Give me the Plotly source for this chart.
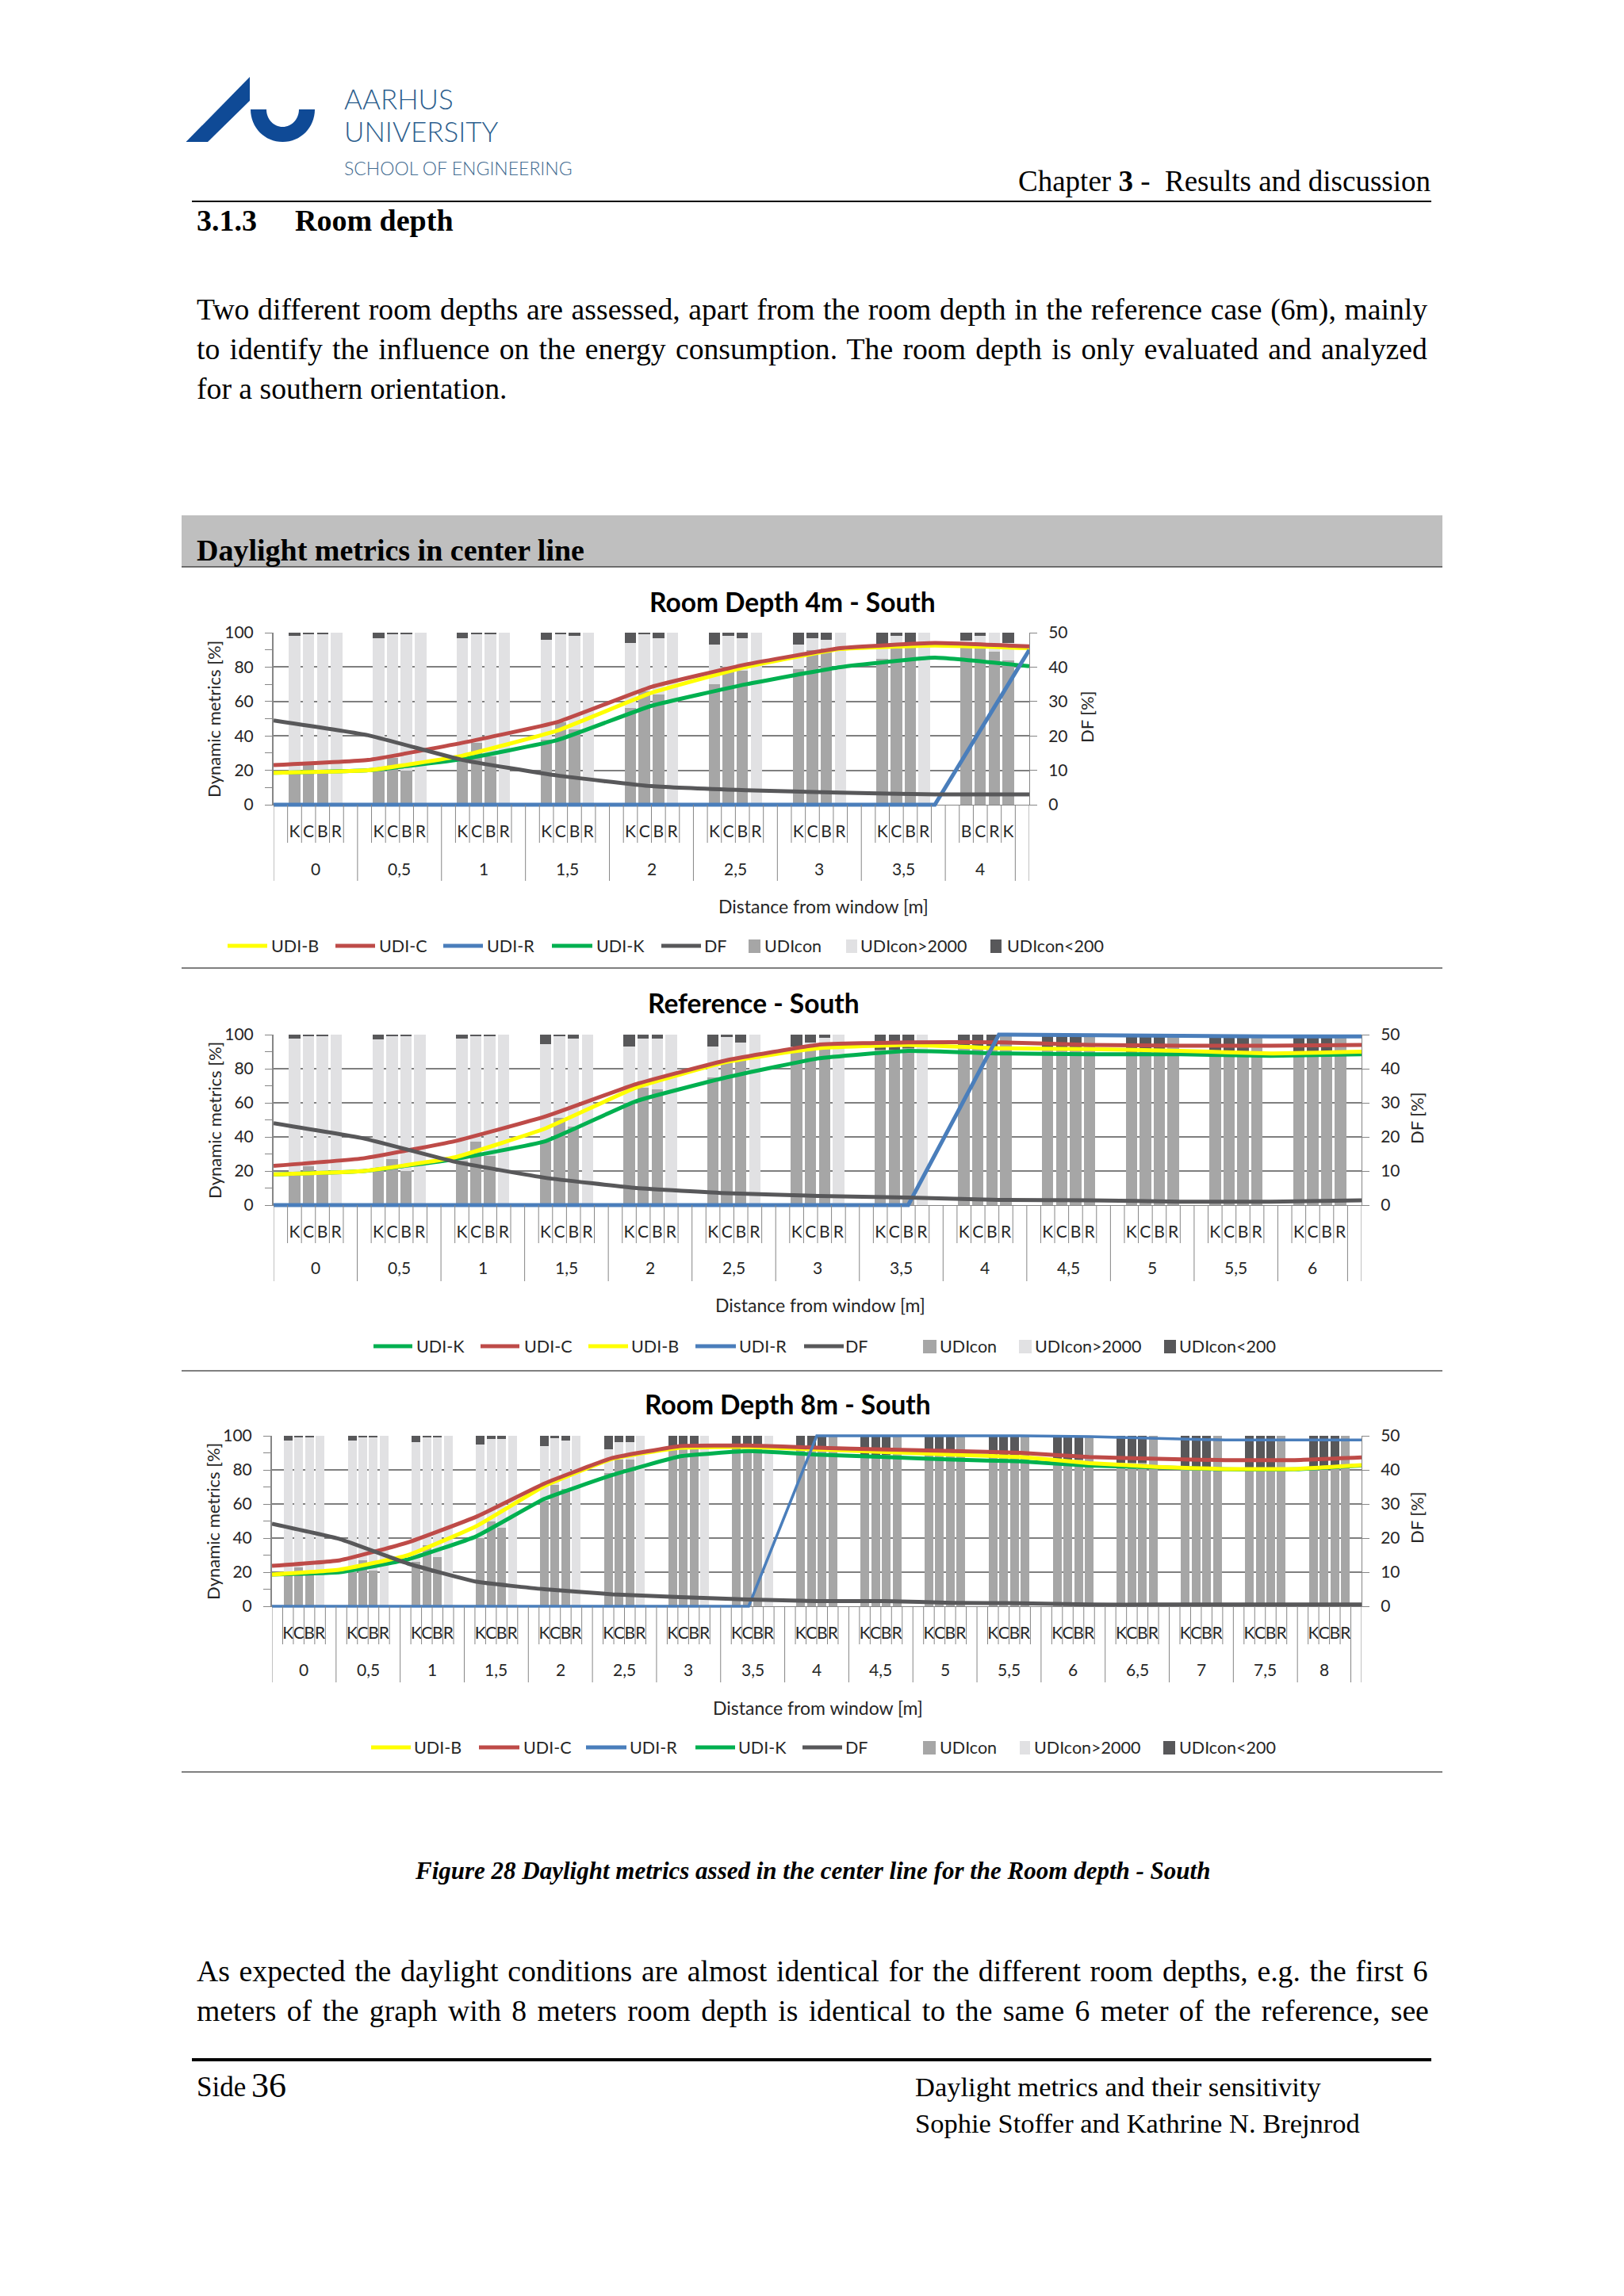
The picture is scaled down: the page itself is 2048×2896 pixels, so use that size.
import plotly.graph_objects as go

W, H = 2048, 2896

# ---------- data ----------
dist_4m = ["0", "0,5", "1", "1,5", "2", "2,5", "3", "3,5", "4"]
dist_ref = dist_4m + ["4,5", "5", "5,5", "6"]
dist_8m = dist_ref + ["6,5", "7", "7,5", "8"]
x_4m = [0, .5, 1, 1.5, 2, 2.5, 3, 3.5, 4]
x_ref = x_4m + [4.5, 5, 5.5, 6]
x_8m = x_ref + [6.5, 7, 7.5, 8]
order_std = ["K", "C", "B", "R"]
order_last_4m = ["B", "C", "R", "K"]

b_4m = [18.5, 20, 28.5, 43, 65, 80, 90.5, 92.5, 91]
c_4m = [23, 26, 36, 48, 68.5, 81.5, 91, 94, 92]
r_4m = [0, 0, 0, 0, 0, 0, 0, 0, 90]
k_4m = [18.5, 20, 26.5, 37.5, 57.5, 70, 80, 85.5, 80.5]
df_4m = [24.5, 20.2, 13, 8.5, 5.4, 4.2, 3.5, 3, 3]
con_4m = [[20, 23, 20, 0], [20, 27, 20, 0], [25, 36, 28, 0], [38, 48, 44, 0], [56, 66, 64, 0],
          [70, 80, 78, 0], [79, 90, 91, 0], [85, 91, 93, 0], [92, 91, 89, 84]]
hi_4m = [[78, 76, 79, 100], [77, 72, 79, 100], [72, 63, 71, 100], [58, 51, 54, 100], [38, 33, 33, 100],
         [23, 18, 19, 100], [14, 7, 5, 100], [8, 7, 1, 100], [3.5, 7, 11, 10]]
low_4m = [[2, 1, 1, 0], [3, 1, 1, 0], [3, 1, 1, 0], [4, 1, 2, 0], [6, 1, 3, 0],
          [7, 2, 3, 0], [7, 3, 4, 0], [7, 2, 6, 0], [4.5, 2, 0, 6]]

k_ref = [18, 20, 27, 37.5, 61, 75, 86, 90.5, 89, 88.5, 88.5, 87.5, 88.5]
c_ref = [23, 27.5, 37.5, 52, 71, 85, 94, 95.5, 95.5, 94, 93.5, 93.5, 94]
b_ref = [18, 20, 28, 45, 69, 84, 92, 94, 92, 91.5, 90.5, 89, 90]
r_ref = [0, 0, 0, 0, 0, 0, 0, 0, 100, 99.5, 99, 99, 99]
df_ref = [24, 19.5, 12.7, 8, 5, 3.5, 2.7, 2.2, 1.5, 1.4, 1, 1, 1.4]
con_ref = [[19, 23, 18, 0], [20, 27, 20, 0], [26, 37, 29, 0], [37, 51, 46, 0], [60, 69, 68, 0],
           [75, 84, 85, 0], [90, 92, 92, 0], [91, 91, 92, 0], [92, 92, 92, 100], [91, 91, 91, 100],
           [90, 90, 90, 100], [89, 90, 89, 100], [89, 89, 90, 100]]
hi_ref = [[78.5, 76, 81, 100], [77, 72.5, 79, 100], [71.5, 62, 70, 100], [57.5, 48, 51.5, 100],
          [33, 28.5, 29.5, 100], [18, 14.5, 10.5, 100], [3, 3.5, 6, 100], [0, 0, 0, 100],
          [0, 0, 0, 0], [0, 0, 0, 0], [0, 0, 0, 0], [0, 0, 0, 0], [0, 0, 0, 0]]
low_ref = [[2.5, 1, 1, 0], [3, .5, 1, 0], [2.5, 1, 1, 0], [5.5, 1, 2.5, 0], [7, 2.5, 2.5, 0],
           [7, 1.5, 4.5, 0], [7, 4.5, 2, 0], [9, 9, 8, 0], [8, 8, 8, 0], [9, 9, 9, 0],
           [10, 10, 10, 0], [11, 10, 11, 0], [11, 11, 10, 0]]

b_8m = [18.6, 21.5, 30, 47, 70.5, 86.5, 93, 93.5, 92, 90.5, 89, 87.5, 84, 81.8, 80.5, 80.5, 82.8]
c_8m = [23.7, 27, 37.5, 52.5, 72, 87, 94, 94.3, 93, 92, 91, 90, 87.5, 86.5, 85.7, 85.7, 87.3]
r_8m = [0, 0, 0, 0, 0, 0, 0, 0, 100, 100, 100, 100, 99.5, 98.5, 97.5, 97.5, 97.5]
k_8m = [18.6, 20, 27.5, 41, 63, 77, 88, 91, 89, 87.5, 86, 85, 82.5, 81.5, 80.3, 80.3, 82.6]
df_8m = [24.2, 19.7, 12.5, 7.2, 5, 3.5, 2.7, 2, 1.5, 1.5, 1, .9, .5, .5, .5, .5, .5]
con_8m = [[19, 23, 19, 0], [20, 27, 21, 0], [26, 36, 29, 0], [40, 50, 46, 0], [62, 71, 69, 0],
          [78, 86, 86, 0], [92, 92, 92, 0], [92, 92, 93, 0], [91, 92, 92, 100], [89, 89, 89, 100],
          [89, 89, 89, 100], [87, 87, 87, 100], [86, 86, 86, 100], [84, 84, 84, 100],
          [82, 82, 82, 100], [81, 81, 81, 100], [82, 82, 82, 100]]
hi_8m = [[78, 76.5, 80.5, 100], [77, 72.5, 78.5, 100], [70.5, 63, 70, 100], [55, 48, 52, 100],
         [32, 27.5, 28, 100], [14, 10.5, 10.5, 100], [2, 2, 3, 100], [0, 2, 0, 100]] + [[0, 0, 0, 0]] * 9
low_8m = [[3, .5, .5, 0], [3, .5, .5, 0], [3.5, 1, 1, 0], [5, 2, 2, 0], [6, 1.5, 3, 0],
          [8, 3.5, 3.5, 0], [6, 6, 5, 0], [8, 6, 7, 0], [9, 8, 8, 0], [11, 11, 11, 0],
          [11, 11, 11, 0], [13, 13, 13, 0], [14, 14, 14, 0], [16, 16, 16, 0], [18, 18, 18, 0],
          [19, 19, 19, 0], [18, 18, 18, 0]]

body_top = ["Two different room depths are assessed, apart from the room depth in the reference case (6m), mainly",
            "to identify the influence on the energy consumption. The room depth is only evaluated and analyzed",
            "for a southern orientation."]
body_bottom = ["As expected the daylight conditions are almost identical for the different room depths, e.g. the first 6",
               "meters of the graph with 8 meters room depth is identical to the same 6 meter of the reference, see"]
gap_top = [1.2, 2.8, 0]
gap_bottom = [2.3, 3.9]

# ---------- styles ----------
COL = {"UDI-B": "#ffff00", "UDI-C": "#be4b48", "UDI-R": "#4a7ebb", "UDI-K": "#00b050", "DF": "#58585a",
       "UDIcon": "#a6a6a6", "UDIcon>2000": "#e1e1e3", "UDIcon<200": "#58585a"}
AX = "#868686"
GRID = "#7f7f7f"
SANS = "Lato, sans-serif"
SERIF = "Liberation Serif, serif"
INK = "#262626"

fig = go.Figure()
shapes, notes = [], []
px_x = lambda x: x / W
px_y = lambda y: 1 - y / H


def text(t, x, y, size, font=SERIF, color="#000", anchor="left", angle=0, weight=None):
    f = dict(family=font, size=size, color=color)
    if weight:
        f["weight"] = weight
    notes.append(dict(text=t, x=px_x(x), y=px_y(y), xref="paper", yref="paper", showarrow=False,
                      xanchor=anchor, yanchor="middle", textangle=angle, font=f, borderpad=0, borderwidth=0))


def rule(x0, y0, x1, y1, color="#000", width=1):
    shapes.append(dict(type="line", xref="paper", yref="paper", x0=px_x(x0), x1=px_x(x1), y0=px_y(y0),
                       y1=px_y(y1), line=dict(color=color, width=width)))


def chart(idx, box, groups, x_vals, lines, df, con, hi, low, orders, title, title_xy, xt_xy, yt_x, yt_y, dft_x, dft_y,
          group_y, legend, leg_y, slots_per=6, lw=5, r_lw=5):
    left, right, top, bottom = box
    a = 4 * idx + 1
    name = lambda pre, n: pre if n == 1 else f"{pre}{n}"
    xa, xb = name("x", a), name("x", a + 1)
    ya, yb, yc, yd = name("y", a), name("y", a + 1), name("y", a + 2), name("y", a + 3)
    ax = lambda s: s[0] + "axis" + s[1:]
    n_groups = len(groups)
    total = n_groups * slots_per
    xs, tv, tt, cons, his, lows = [], [], [], [], [], []
    for g in range(n_groups):
        start = g * slots_per
        ordr = orders[g]
        for s in range(4):
            pos = start + s + 1.5
            xs.append(pos)
            tv.append(pos)
            tt.append(ordr[s])
            cons.append(con[g][s])
            his.append(hi[g][s])
            lows.append(low[g][s])
    for nm, vals in (("UDIcon", cons), ("UDIcon>2000", his), ("UDIcon<200", lows)):
        fig.add_trace(go.Bar(x=xs, y=vals, name=nm, xaxis=xa, yaxis=ya, marker=dict(color=COL[nm], line_width=0),
                             showlegend=False))
    # an empty trace keeps the right-hand DF axis on the page
    fig.add_trace(go.Scatter(x=[None], y=[None], mode="lines", xaxis=xa, yaxis=yb, showlegend=False, hoverinfo="skip"))
    # hidden twin axes with the same scale but a few px of extra room so the thick lines are not cut at 0 and 100
    h = bottom - top
    pad = 7
    for nm in lines:
        smooth = nm != "UDI-R"
        fig.add_trace(go.Scatter(x=x_vals, y=lines[nm], name=nm, mode="lines", xaxis=xb, yaxis=yc,
                                 line=dict(color=COL[nm], width=r_lw if nm == "UDI-R" else lw,
                                           shape="spline" if smooth else "linear",
                                           smoothing=.35 if smooth else None), showlegend=False))
    fig.add_trace(go.Scatter(x=x_vals, y=df, name="DF", mode="lines", xaxis=xb, yaxis=yd,
                             line=dict(color=COL["DF"], width=lw, shape="spline", smoothing=.35), showlegend=False))
    dom_x = [left / W, right / W]
    dom_y = [1 - bottom / H, 1 - top / H]
    dom_pad = [1 - (bottom + pad) / H, 1 - (top - pad) / H]
    tick_font = dict(family=SANS, size=21, color=INK)
    lay = {
        ax(xa): dict(domain=dom_x, range=[0, total], tickmode="array", tickvals=tv, ticktext=tt, ticks="", tickangle=0,
                     tickfont=dict(family=SANS, size=21, color=INK), ticklabelstandoff=15, showgrid=False, anchor=ya,
                     showline=True, linecolor=AX, linewidth=1, zeroline=False, automargin=False),
        ax(xb): dict(domain=dom_x, range=[x_vals[0], x_vals[-1]], overlaying=xa, anchor=yc, visible=False, automargin=False),
        ax(ya): dict(domain=dom_y, range=[0, 100], dtick=20, tick0=0, ticks="outside", ticklen=9, tickcolor=AX,
                     tickfont=tick_font, showgrid=True, gridcolor=GRID, gridwidth=2, zeroline=False, showline=True,
                     linecolor=AX, linewidth=2, anchor=xa, ticklabelstandoff=10, automargin=False,
                     minor=dict(dtick=10, ticks="outside", ticklen=9, tickcolor=AX, showgrid=False)),
        ax(yb): dict(domain=dom_y, range=[0, 50], dtick=10, tick0=0, ticks="outside", ticklen=9, tickcolor=AX,
                     tickfont=tick_font, showgrid=False, zeroline=False, showline=True, linecolor=AX, linewidth=1,
                     side="right", overlaying=ya, anchor=xa, ticklabelstandoff=10, automargin=False),
        ax(yc): dict(domain=dom_pad, range=[-pad / h * 100, 100 + pad / h * 100], visible=False, anchor=xb, automargin=False),
        ax(yd): dict(domain=dom_pad, range=[-pad / h * 50, 50 + pad / h * 50], visible=False, anchor=xb, automargin=False),
    }
    fig.update_layout(**lay)
    # multi-level category axis drawn below the plot
    for g in range(n_groups):
        start = g * slots_per
        last = g == n_groups - 1
        sep_ends = [start, start + slots_per - 1, start + slots_per] if last else [start]
        for sx in sep_ends:
            shapes.append(dict(type="line", xref=xa, yref=f"{ya} domain", x0=sx, x1=sx, y0=0, y1=-96 / h,
                               line=dict(color=AX, width=1)))
        for off in range(1, 6):
            if last and off == 5:
                continue
            sx = start + off
            shapes.append(dict(type="line", xref=xa, yref=f"{ya} domain", x0=sx, x1=sx, y0=0, y1=-48 / h,
                               line=dict(color=AX, width=1)))
        span = slots_per - 1 if last else slots_per
        notes.append(dict(text=groups[g], x=start + span / 2, y=px_y(group_y), xref=xa, yref="paper", showarrow=False,
                          xanchor="center", yanchor="middle", font=dict(family=SANS, size=21, color=INK)))
    text(title, title_xy[0], title_xy[1], 33.5, font=SANS, anchor="center")
    text("Distance from window [m]", xt_xy[0], xt_xy[1], 23, font=SANS, color=INK, anchor="center")
    text("Dynamic metrics [%]", yt_x, yt_y, 22, font=SANS, color=INK, anchor="center", angle=-90)
    text("DF [%]", dft_x, dft_y, 22, font=SANS, color=INK, anchor="center", angle=-90)
    # legend
    for nm, x0, x1, tx in legend:
        if nm.startswith("UDIcon"):
            shapes.append(dict(type="rect", xref="paper", yref="paper", x0=px_x(x0), x1=px_x(x1), y0=px_y(leg_y + 9),
                               y1=px_y(leg_y - 8), fillcolor=COL[nm], line_width=0))
        else:
            rule(x0, leg_y, x1, leg_y, COL[nm], 5)
        text(nm.replace("<", "&lt;"), tx, leg_y, 21.5, font=SANS, color=INK)


# ---------- the three charts ----------
chart(0, (345, 1298, 798, 1015), dist_4m, x_4m,
      {"UDI-K": k_4m, "UDI-B": b_4m, "UDI-C": c_4m, "UDI-R": r_4m}, df_4m, con_4m, hi_4m, low_4m,
      [order_std] * 8 + [order_last_4m], "<b>Room Depth 4m - South</b>", (999, 759), (1038, 1143), 270, 907, 1370, 905,
      1095,
      [("UDI-B", 287, 337, 342), ("UDI-C", 423, 473, 478), ("UDI-R", 559, 609, 614), ("UDI-K", 696, 747, 752),
       ("DF", 834, 884, 888), ("UDIcon", 944, 959, 964), ("UDIcon>2000", 1067, 1081, 1085),
       ("UDIcon<200", 1249, 1263, 1270)], 1193)
chart(1, (345, 1717, 1305, 1520), dist_ref, x_ref,
      {"UDI-K": k_ref, "UDI-B": b_ref, "UDI-C": c_ref, "UDI-R": r_ref}, df_ref, con_ref, hi_ref, low_ref,
      [order_std] * 13, "<b>Reference - South</b>", (950, 1265), (1034, 1646), 270, 1413, 1786, 1411, 1599,
      [("UDI-K", 471, 520, 525), ("UDI-C", 606, 655, 661), ("UDI-B", 742, 792, 796), ("UDI-R", 877, 928, 932),
       ("DF", 1014, 1064, 1066), ("UDIcon", 1164, 1181, 1185), ("UDIcon>2000", 1285, 1301, 1305),
       ("UDIcon<200", 1468, 1483, 1487)], 1698)
chart(2, (343, 1717, 1811, 2026), dist_8m, x_8m,
      {"UDI-K": k_8m, "UDI-B": b_8m, "UDI-C": c_8m, "UDI-R": r_8m}, df_8m, con_8m, hi_8m, low_8m,
      [order_std] * 17, "<b>Room Depth 8m - South</b>", (993, 1771), (1031, 2154), 268, 1919, 1786, 1915, 2105,
      [("UDI-B", 468, 518, 522), ("UDI-C", 604, 655, 660), ("UDI-R", 739, 790, 794), ("UDI-K", 877, 927, 931),
       ("DF", 1012, 1062, 1066), ("UDIcon", 1164, 1180, 1185), ("UDIcon>2000", 1286, 1299, 1304),
       ("UDIcon<200", 1467, 1482, 1487)], 2204, r_lw=3.5)

# ---------- page furniture ----------
BLUE = "#0f4a96"
p = lambda x, y: f"{px_x(x):.5f},{px_y(y):.5f}"
shapes.append(dict(type="path", xref="paper", yref="paper", line_width=0, fillcolor=BLUE,
                   path=f"M{p(234.5, 179)}L{p(262, 179)}L{p(315, 127)}L{p(315, 97)}Z"))
shapes.append(dict(type="path", xref="paper", yref="paper", line_width=0, fillcolor=BLUE,
                   path=f"M{p(316, 138)}C{p(316, 161)} {p(334, 179)} {p(356.5, 179)}C{p(379, 179)} {p(397, 161)} {p(397, 138)}"
                        f"L{p(377, 138)}C{p(377, 150)} {p(368, 160)} {p(356.5, 160)}C{p(345, 160)} {p(336, 150)} {p(336, 138)}Z"))
text("AARHUS", 434, 124, 35, font=SANS, color="#2e5f8e", weight=300)
text("UNIVERSITY", 434, 165, 35, font=SANS, color="#2e5f8e", weight=300)
text("SCHOOL OF ENGINEERING", 434, 212, 23, font=SANS, color="#3f6a90", weight=300)

text("Chapter <b>3</b> -  Results and discussion", 1284, 229, 37)
rule(242, 254, 1805, 254, "#000", 2)
text("<b>3.1.3</b>", 248, 278, 38)
text("<b>Room depth</b>", 372, 278, 38)
for i, line in enumerate(body_top):
    text(f'<span style="word-spacing:{gap_top[i]}px">{line}</span>', 248, 390 + i * 50, 37.7)
shapes.append(dict(type="rect", xref="paper", yref="paper", x0=px_x(229), x1=px_x(1819), y0=px_y(715), y1=px_y(650),
                   fillcolor="#bfbfbf", line_width=0, layer="below"))
rule(229, 715, 1819, 715, "#000", 1)
text("<b>Daylight metrics in center line</b>", 248, 694, 38)
for yy in (1221, 1729, 2235):
    rule(229, yy, 1819, yy, "#000", 1)
text("<b><i>Figure 28 Daylight metrics assed in the center line for the Room depth - South</i></b>", 1024, 2359, 31,
     anchor="center")
for i, line in enumerate(body_bottom):
    text(f'<span style="word-spacing:{gap_bottom[i]}px">{line}</span>', 248, 2486 + i * 50, 37.7)
rule(242, 2598, 1805, 2598, "#000", 4)
text("Side", 248, 2632, 35)
text("36", 317, 2630, 44)
text("Daylight metrics and their sensitivity", 1154, 2632, 34.5)
text("Sophie Stoffer and Kathrine N. Brejnrod", 1154, 2678, 34.5)

fig.update_layout(width=W, height=H, autosize=False, margin=dict(l=0, r=0, t=0, b=0, autoexpand=False),
                  paper_bgcolor="#ffffff", plot_bgcolor="rgba(0,0,0,0)", barmode="stack", bargap=.18, showlegend=False,
                  shapes=shapes, annotations=notes)
fig.write_html("out.html", config={"displayModeBar": False}, post_script="document.body.style.margin='0';")
